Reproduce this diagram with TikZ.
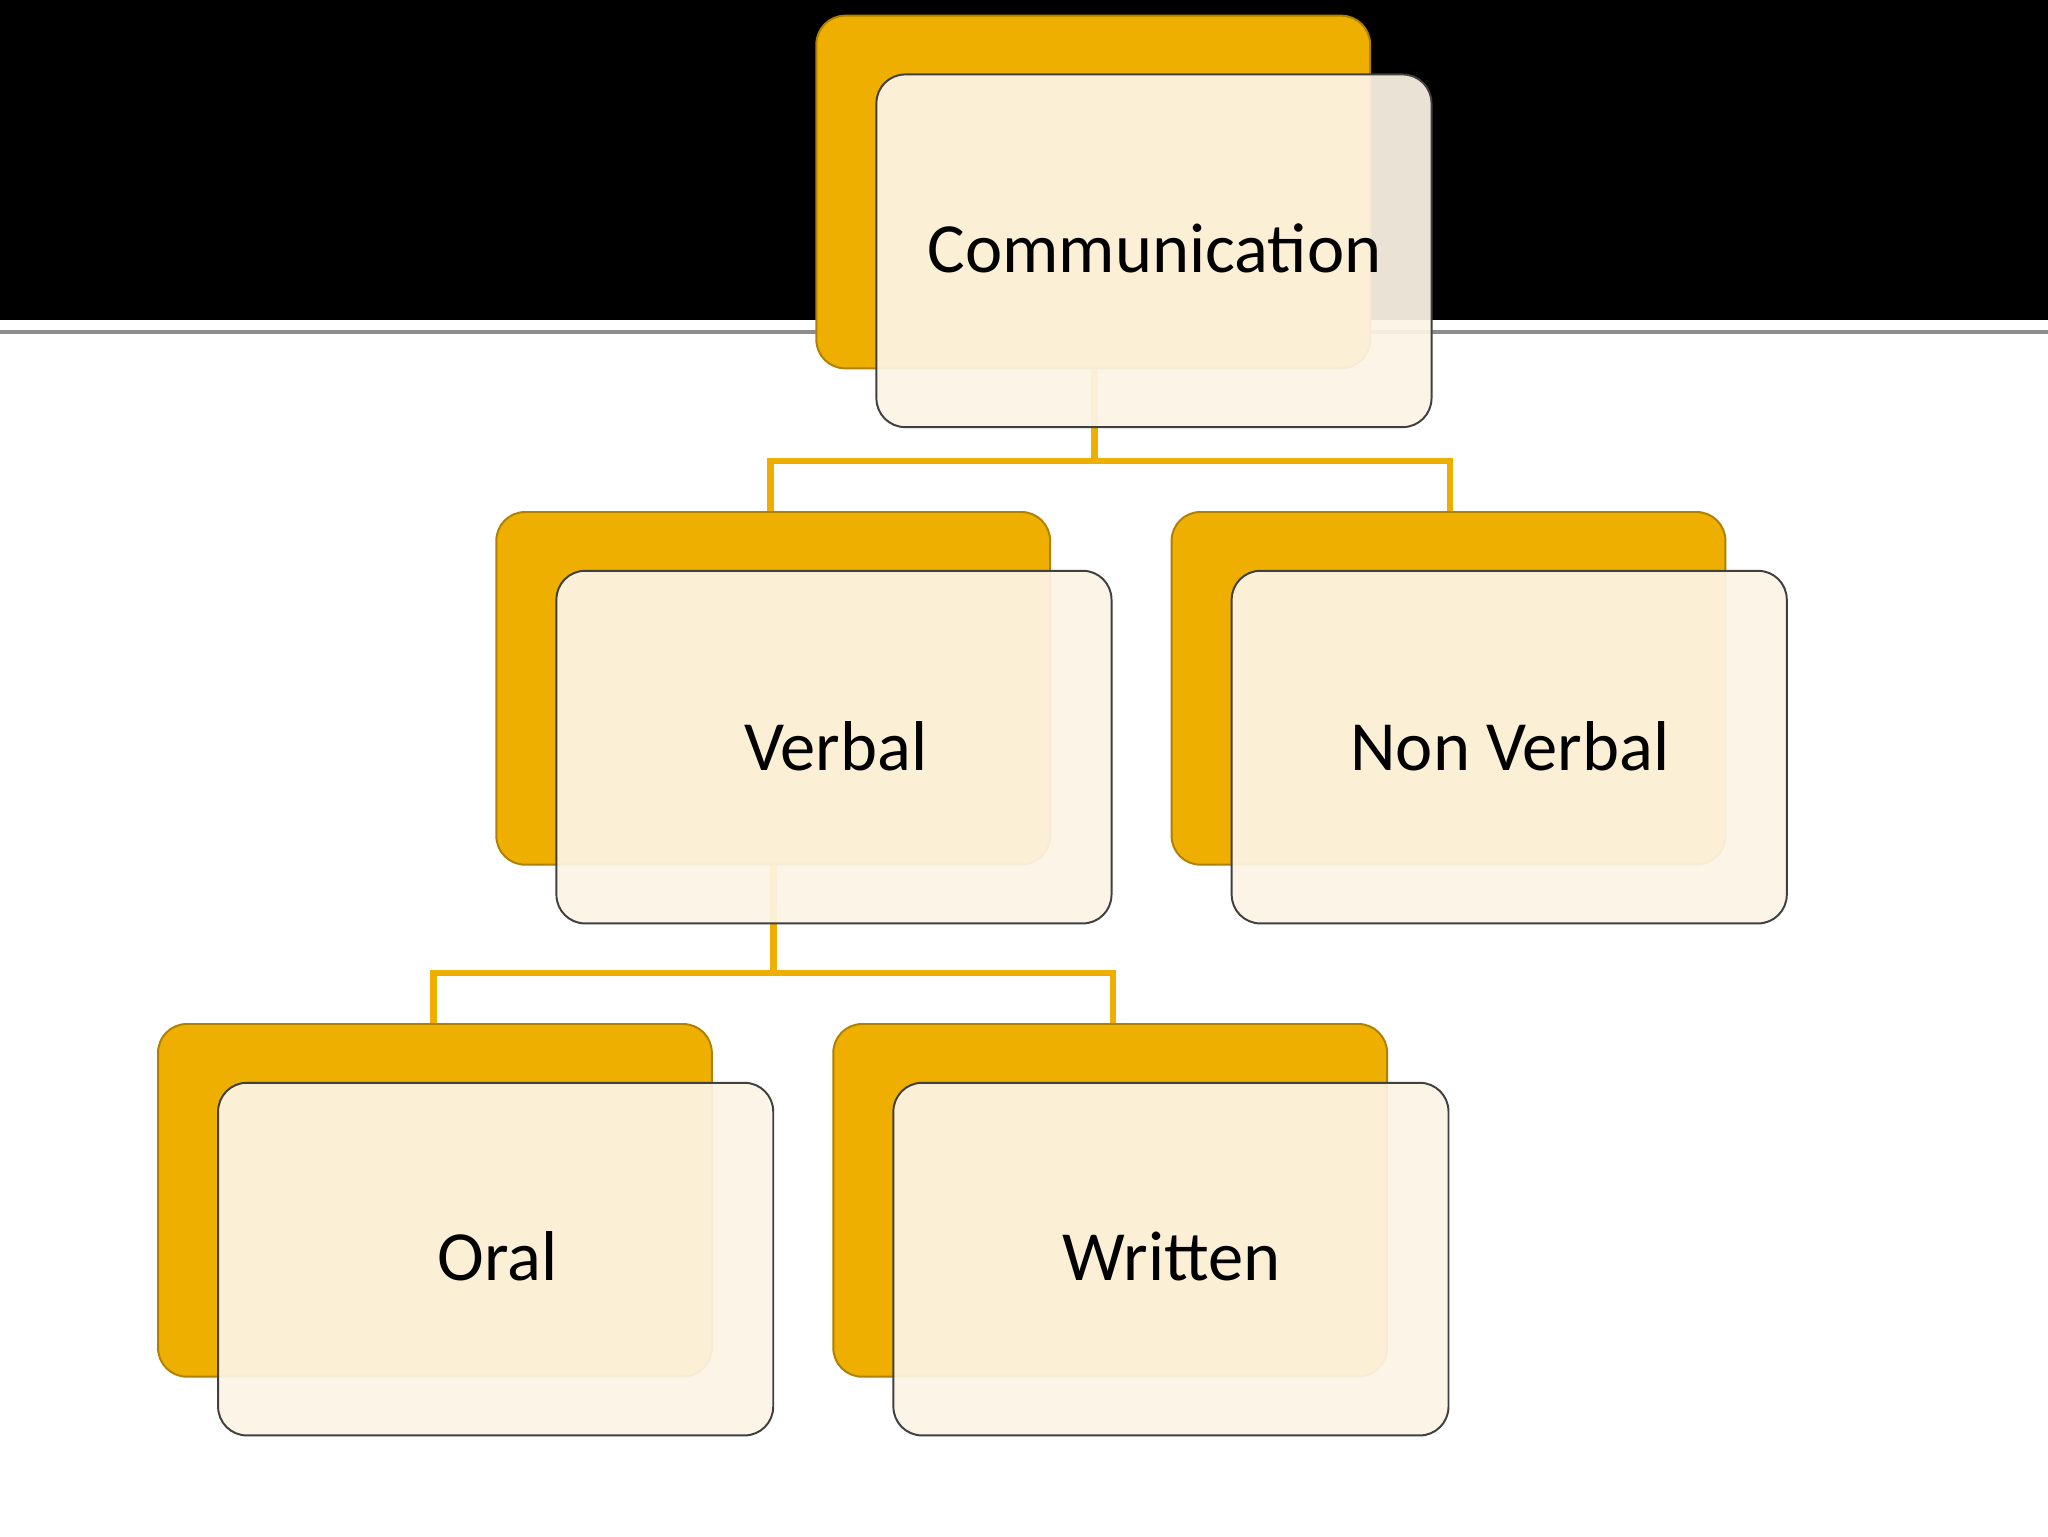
\documentclass[tikz,border=0pt]{standalone}
\usepackage{fontspec}
\setmainfont{Carlito}
\definecolor{gold}{HTML}{EEAF00}
\definecolor{golddk}{HTML}{B08000}
\definecolor{cream}{HTML}{FCF5E6}
\tikzset{
 back/.style={draw=golddk,line width=1.5pt,fill=gold,rounded corners=22pt},
 front/.style={draw=black!75,line width=1.5pt,fill=cream,fill opacity=0.93,rounded corners=22pt},
 lbl/.style={font=\fontsize{54}{64}\selectfont,text=black},
 conn/.style={draw=gold,line width=5pt}
}
\begin{document}
\begin{tikzpicture}[x=1pt,y=-1pt]
\useasboundingbox (0,0) rectangle (1568,1176);
\fill[white] (0,0) rectangle (1568,1176);
\fill[black] (0,0) rectangle (1568,245);
\draw[black!45,line width=3pt] (0,254) -- (1568,254);
% connectors
\coordinate (c1) at (838,282); \coordinate (j1) at (838,353);
\coordinate (l1) at (590,353); \coordinate (r1) at (1110,353);
\coordinate (lv) at (590,392); \coordinate (rv) at (1110,392);
\draw[conn] (c1) -- (j1); \draw[conn] (lv) -- (l1) -- (r1) -- (rv);
\coordinate (c2) at (592,662); \coordinate (j2) at (592,745);
\coordinate (l2) at (332,745); \coordinate (r2) at (852,745);
\coordinate (lo) at (332,784); \coordinate (rw) at (852,784);
\draw[conn] (c2) -- (j2); \draw[conn] (lo) -- (l2) -- (r2) -- (rw);
% boxes
\foreach \n/\x/\y/\t in {comm/625/12/Communication,verb/380/392/Verbal,nonv/897/392/Non Verbal,oral/121/784/Oral,writ/638/784/Written}{
 \path[back] (\x,\y) rectangle ++(424,270);
 \path[front] (\x+46,\y+45) rectangle ++(425,270);
}
\node[lbl] (comm) at (884,190) {Communication};
\node[lbl] (verb) at (640,571) {Verbal};
\node[lbl] (nonv) at (1156,571) {Non Verbal};
\node[lbl] (oral) at (381,962) {Oral};
\node[lbl] (writ) at (897,962) {Written};
\end{tikzpicture}
\end{document}
